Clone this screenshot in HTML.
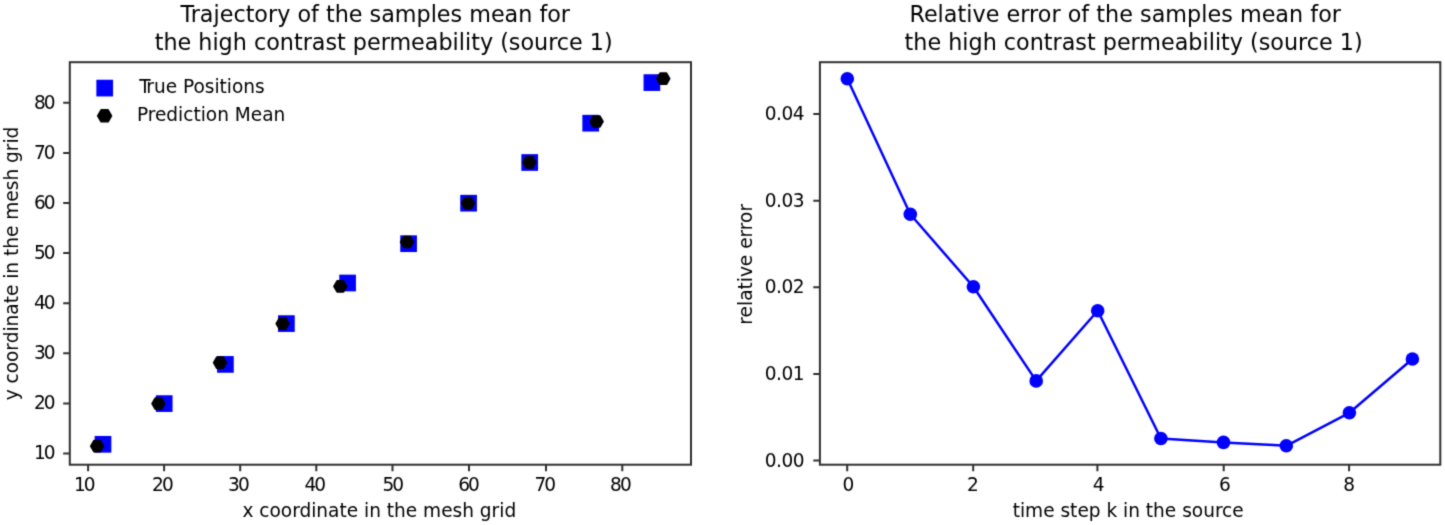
<!DOCTYPE html>
<html lang="en"><head><meta charset="utf-8"><title>Trajectory and relative error of the samples mean</title>
<style>html,body{margin:0;padding:0;background:#fff}body{width:1445px;height:525px;overflow:hidden}svg{display:block}</style></head>
<body>
<svg width="1445" height="525" viewBox="0 0 1445 525" font-family="'DejaVu Sans','Liberation Sans',sans-serif" fill="#000">
<defs><filter id="soft" x="0" y="0" width="100%" height="100%" filterUnits="objectBoundingBox" color-interpolation-filters="sRGB"><feConvolveMatrix order="3" kernelMatrix="0.02250 0.10500 0.02250 0.10500 0.49000 0.10500 0.02250 0.10500 0.02250" divisor="1" edgeMode="duplicate" preserveAlpha="true"/></filter></defs>
<g filter="url(#soft)">
<rect width="1445" height="525" fill="#fff"/>
<g fill="#0000ff">
<rect x="94.65" y="435.95" width="16.7" height="16.7"/>
<rect x="155.85" y="395.25" width="16.7" height="16.7"/>
<rect x="217.05" y="356.05" width="16.7" height="16.7"/>
<rect x="278.05" y="315.25" width="16.7" height="16.7"/>
<rect x="339.25" y="274.65" width="16.7" height="16.7"/>
<rect x="400.25" y="235.35" width="16.7" height="16.7"/>
<rect x="460.25" y="194.85" width="16.7" height="16.7"/>
<rect x="521.35" y="154.15" width="16.7" height="16.7"/>
<rect x="582.35" y="114.85" width="16.7" height="16.7"/>
<rect x="643.55" y="74.25" width="16.7" height="16.7"/>
<rect x="96.35" y="79.75" width="16.7" height="16.7"/>
</g>
<g fill="#000" stroke="#000" stroke-width="1.6" stroke-linejoin="round">
<polygon points="103.50,446.10 100.30,451.64 93.90,451.64 90.70,446.10 93.90,440.56 100.30,440.56"/>
<polygon points="164.80,403.60 161.60,409.14 155.20,409.14 152.00,403.60 155.20,398.06 161.60,398.06"/>
<polygon points="226.40,362.70 223.20,368.24 216.80,368.24 213.60,362.70 216.80,357.16 223.20,357.16"/>
<polygon points="289.00,323.60 285.80,329.14 279.40,329.14 276.20,323.60 279.40,318.06 285.80,318.06"/>
<polygon points="346.70,286.40 343.50,291.94 337.10,291.94 333.90,286.40 337.10,280.86 343.50,280.86"/>
<polygon points="413.40,242.00 410.20,247.54 403.80,247.54 400.60,242.00 403.80,236.46 410.20,236.46"/>
<polygon points="474.40,203.20 471.20,208.74 464.80,208.74 461.60,203.20 464.80,197.66 471.20,197.66"/>
<polygon points="535.80,162.30 532.60,167.84 526.20,167.84 523.00,162.30 526.20,156.76 532.60,156.76"/>
<polygon points="603.00,121.50 599.80,127.04 593.40,127.04 590.20,121.50 593.40,115.96 599.80,115.96"/>
<polygon points="669.70,78.70 666.50,84.24 660.10,84.24 656.90,78.70 660.10,73.16 666.50,73.16"/>
<polygon points="111.50,115.80 108.05,121.78 101.15,121.78 97.70,115.80 101.15,109.82 108.05,109.82"/>
</g>
<g fill="none" stroke="#303030" stroke-width="2.0">
<rect x="69.8" y="62.2" width="621.20" height="402.50"/>
<rect x="819.9" y="62.2" width="620.40" height="402.50"/>
<path d="M88.10 464.7v6.6M69.8 453.50h-6.6M164.10 464.7v6.6M69.8 403.40h-6.6M240.20 464.7v6.6M69.8 353.30h-6.6M316.30 464.7v6.6M69.8 303.20h-6.6M392.50 464.7v6.6M69.8 253.10h-6.6M469.00 464.7v6.6M69.8 203.00h-6.6M546.00 464.7v6.6M69.8 152.90h-6.6M622.30 464.7v6.6M69.8 102.80h-6.6M847.20 464.7v6.6M973.20 464.7v6.6M1097.40 464.7v6.6M1223.70 464.7v6.6M1349.10 464.7v6.6M819.9 460.60h-6.6M819.9 373.95h-6.6M819.9 287.30h-6.6M819.9 200.65h-6.6M819.9 114.00h-6.6"/>
</g>
<g font-size="18.55px">
<g text-anchor="middle">
<text x="83.70" y="491.3" letter-spacing="-2">10</text>
<text x="161.90" y="491.3" letter-spacing="-2">20</text>
<text x="237.90" y="491.3" letter-spacing="-2">30</text>
<text x="314.20" y="491.3" letter-spacing="-2">40</text>
<text x="392.20" y="491.3" letter-spacing="-2">50</text>
<text x="468.10" y="491.3" letter-spacing="-2">60</text>
<text x="544.20" y="491.3" letter-spacing="-2">70</text>
<text x="619.90" y="491.3" letter-spacing="-2">80</text>
<text x="848.40" y="491.3">0</text>
<text x="972.80" y="491.3">2</text>
<text x="1098.60" y="491.3">4</text>
<text x="1224.90" y="491.3">6</text>
<text x="1349.20" y="491.3">8</text>
</g>
<g text-anchor="end">
<text x="53.6" y="459.40" letter-spacing="-2">10</text>
<text x="53.6" y="409.30" letter-spacing="-2">20</text>
<text x="53.6" y="359.20" letter-spacing="-2">30</text>
<text x="53.6" y="309.10" letter-spacing="-2">40</text>
<text x="53.6" y="259.00" letter-spacing="-2">50</text>
<text x="53.6" y="208.90" letter-spacing="-2">60</text>
<text x="53.6" y="158.80" letter-spacing="-2">70</text>
<text x="53.6" y="108.70" letter-spacing="-2">80</text>
<text x="804.0" y="466.50" letter-spacing="-0.5">0.00</text>
<text x="804.0" y="379.85" letter-spacing="-0.5">0.01</text>
<text x="804.0" y="293.20" letter-spacing="-0.5">0.02</text>
<text x="804.0" y="206.55" letter-spacing="-0.5">0.03</text>
<text x="804.0" y="119.90" letter-spacing="-0.5">0.04</text>
</g>
<text x="379.3" y="517.3" text-anchor="middle">x coordinate in the mesh grid</text>
<text x="1128.2" y="517.3" text-anchor="middle">time step k in the source</text>
<text transform="translate(18.2 263.5) rotate(-90)" text-anchor="middle">y coordinate in the mesh grid</text>
<text transform="translate(752.3 264.3) rotate(-90)" text-anchor="middle">relative error</text>
<text x="139.2" y="92.5">T<tspan dx="-1.5">rue Positions</tspan></text>
<text x="136.9" y="120.5">Prediction Mean</text>
</g>
<g font-size="22.27px">
<text x="180.4" y="22.3">Trajectory of the samples mean for</text>
<text x="154.7" y="49.65">the high contrast permeability (source 1)</text>
<text x="909.4" y="22.3" letter-spacing="0.03">Relative error of the samples mean for</text>
<text x="904.6" y="49.65">the high contrast permeability (source 1)</text>
</g>
<polyline fill="none" stroke="#0000ff" stroke-width="2.5" stroke-linejoin="round" points="847.3,78.8 910.3,214.3 973.4,286.8 1036.2,380.9 1097.7,310.7 1160.9,438.5 1223.5,442.4 1286.3,445.8 1349.4,412.8 1412.4,359.0"/>
<g fill="#0000ff">
<circle cx="847.3" cy="78.8" r="6.8"/>
<circle cx="910.3" cy="214.3" r="6.8"/>
<circle cx="973.4" cy="286.8" r="6.8"/>
<circle cx="1036.2" cy="380.9" r="6.8"/>
<circle cx="1097.7" cy="310.7" r="6.8"/>
<circle cx="1160.9" cy="438.5" r="6.8"/>
<circle cx="1223.5" cy="442.4" r="6.8"/>
<circle cx="1286.3" cy="445.8" r="6.8"/>
<circle cx="1349.4" cy="412.8" r="6.8"/>
<circle cx="1412.4" cy="359.0" r="6.8"/>
</g>
</g>
</svg>
</body></html>
